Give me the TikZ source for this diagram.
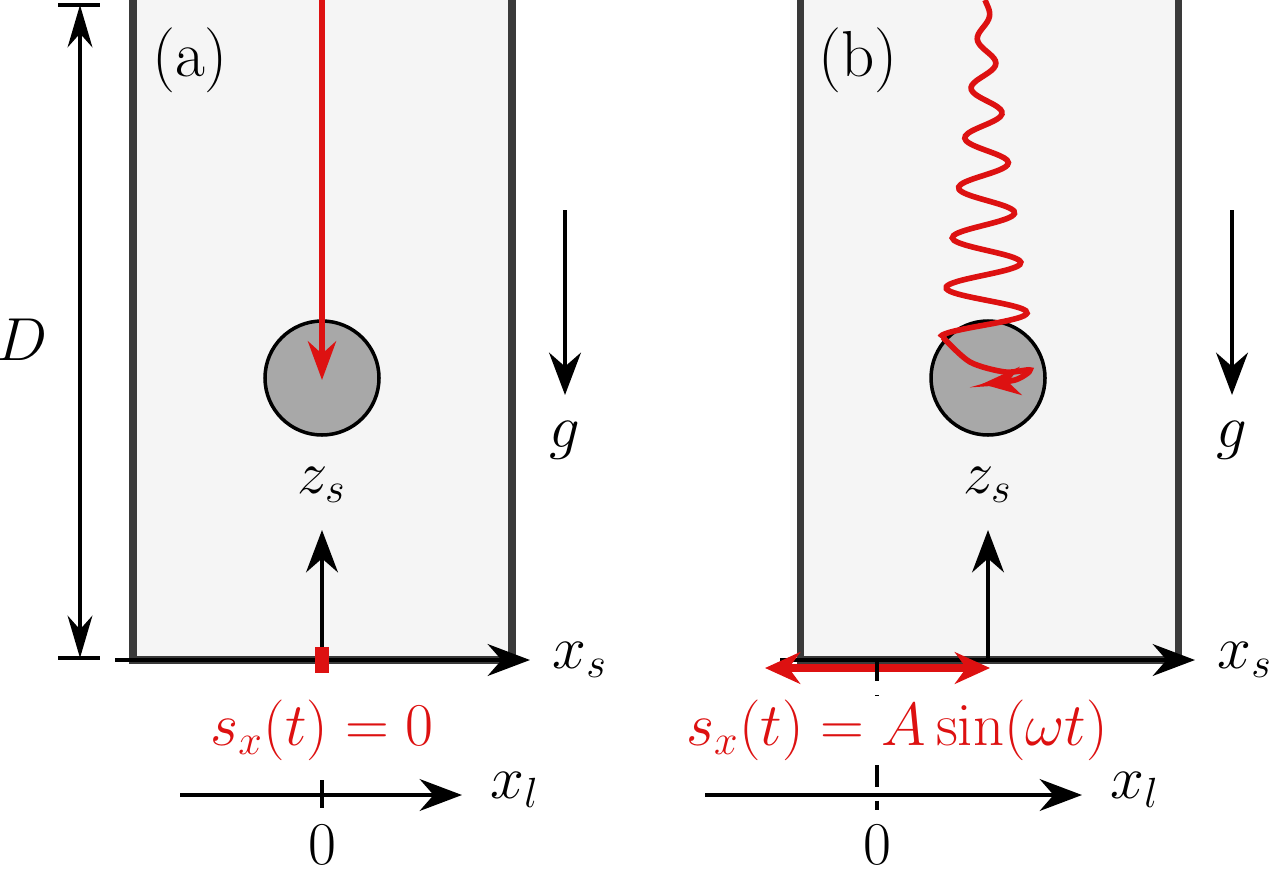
\documentclass[tikz,border=0pt]{standalone}
\usepackage{amsmath}
\usetikzlibrary{arrows.meta}
\definecolor{boxfill}{HTML}{F5F5F5}
\definecolor{boxline}{HTML}{3A3A3A}
\definecolor{ballfill}{HTML}{A8A8A8}
\definecolor{wavered}{HTML}{DD1111}
\tikzset{
    axis/.style={line width=1.4pt, -{Stealth[length=12pt,width=9pt]}},
    redarrow/.style={wavered, line width=1.6pt, -{Stealth[length=11pt,width=8pt]}},
    lbl/.style={font=\fontsize{18.5}{22}\selectfont},
}
\begin{document}
\begin{tikzpicture}[x=1cm,y=-1cm]
    \useasboundingbox (0,0) rectangle (12.8,8.75);
    % panel (a)
    \draw[boxline, line width=2pt, fill=boxfill] (1.33,-0.2) rectangle (5.12,6.6);
    \draw[line width=1pt, fill=ballfill] (3.22,3.78) circle (0.57);
    \draw[redarrow] (3.22,0) -- (3.22,3.8);
    \draw[axis] (3.22,6.6) -- (3.22,5.3);
    \draw (3.22,4.85) node[lbl]{$z_s$};
    \draw[axis] (1.15,6.6) -- (5.3,6.6);
    \draw (5.8,6.6) node[lbl]{$x_s$};
    \draw[wavered, line width=4pt] (3.22,6.47) -- (3.22,6.73);
    \draw (3.22,7.3) node[lbl, text=wavered]{$s_x(t)=0$};
    \draw[axis] (1.8,7.95) -- (4.62,7.95);
    \draw (5.15,7.9) node[lbl]{$x_l$};
    \draw[line width=1.4pt] (3.22,7.8) -- (3.22,8.08);
    \draw (3.22,8.45) node[lbl]{$0$};
    \draw (1.9,0.6) node[lbl]{(a)};
    \draw[axis] (5.65,2.1) -- (5.65,3.95);
    \draw (5.65,4.4) node[lbl]{$g$};
    % dimension D
    \draw[line width=1.4pt, {Stealth[length=12pt,width=7pt]}-{Stealth[length=12pt,width=7pt]}] (0.8,0.05) -- (0.8,6.58);
    \draw[line width=1.4pt] (0.58,0.05) -- (1.0,0.05);
    \draw[line width=1.4pt] (0.58,6.58) -- (1.0,6.58);
    \draw (0.22,3.4) node[lbl]{$D$};
    % panel (b)
    \draw[boxline, line width=2pt, fill=boxfill] (8.0,-0.2) rectangle (11.78,6.6);
    \draw[line width=1pt, fill=ballfill] (9.88,3.78) circle (0.57);
    \draw[wavered, line width=1.6pt, smooth, samples=140, domain=0:3.375]
        plot ({9.85+(0.03+0.125*\x)*sin(\x*360/0.5)}, \x);
    \draw[redarrow] plot[smooth] coordinates {(9.43,3.375) (9.7,3.62) (10.05,3.72) (10.3,3.7) (10.15,3.8) (9.82,3.84)};
    \draw[axis] (9.88,6.6) -- (9.88,5.3);
    \draw (9.88,4.85) node[lbl]{$z_s$};
    \draw[axis] (7.8,6.6) -- (11.95,6.6);
    \draw (12.45,6.6) node[lbl]{$x_s$};
    \draw[wavered, line width=2.2pt, {Stealth[length=10pt,width=9pt]}-{Stealth[length=10pt,width=9pt]}] (7.65,6.68) -- (9.9,6.68);
    \draw[line width=1.4pt, dash pattern=on 6pt off 4pt] (8.77,6.6) -- (8.77,8.1);
    \draw (8.97,7.3) node[lbl, text=wavered, fill=white, inner sep=1pt]{$s_x(t)=A\sin(\omega t)$};
    \draw[axis] (7.05,7.95) -- (10.82,7.95);
    \draw (11.35,7.9) node[lbl]{$x_l$};
    \draw (8.77,8.45) node[lbl]{$0$};
    \draw (8.58,0.6) node[lbl]{(b)};
    \draw[axis] (12.32,2.1) -- (12.32,3.95);
    \draw (12.32,4.4) node[lbl]{$g$};
\end{tikzpicture}
\end{document}
